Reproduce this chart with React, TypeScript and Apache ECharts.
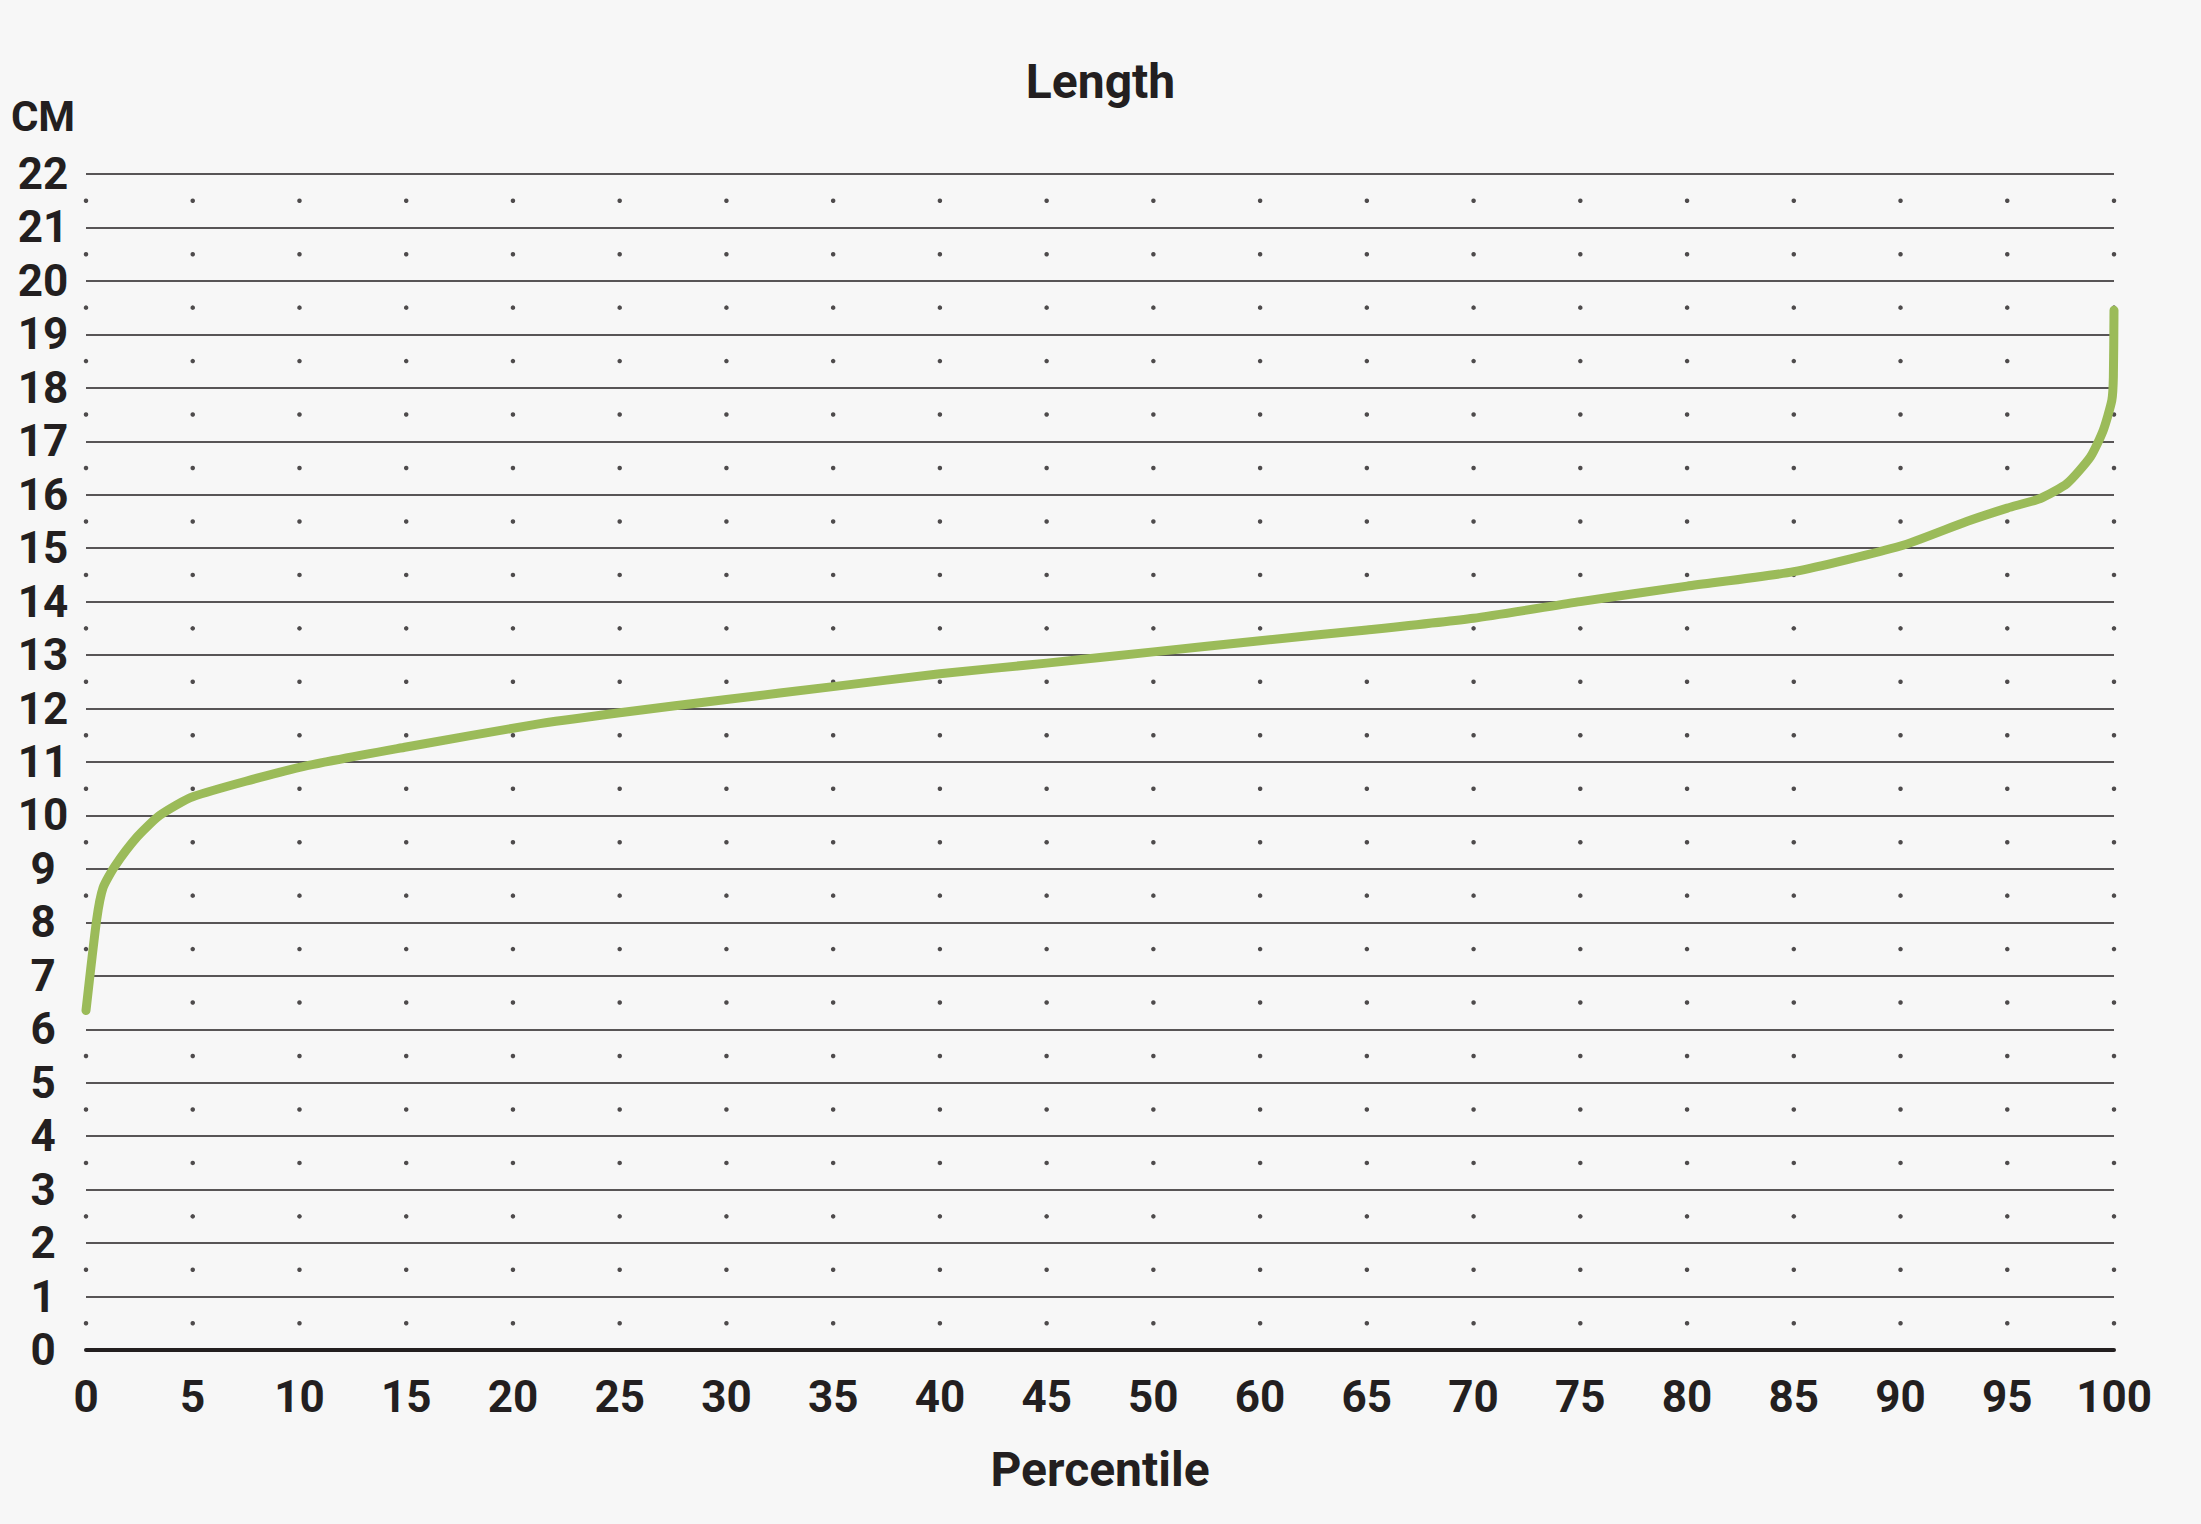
import { useEffect, useRef } from "react";
import * as echarts from "echarts";

// x axis tick labels as printed (note: the source skips 55)
const xTicks = ["0", "5", "10", "15", "20", "25", "30", "35", "40", "45", "50", "60", "65", "70", "75", "80", "85", "90", "95", "100"];
const yMax = 22;

// curve
const percentiles = [0, 0.5, 0.8, 1.35, 2.4, 3.45, 5, 10, 15, 21, 25, 30, 35, 40, 45, 50, 60, 65, 70, 75, 80, 85, 90, 93.1, 95, 96.55, 97.8, 98.9, 99.5, 99.9, 99.97, 100];
const lengthCm = [6.35, 8.05, 8.65, 9.05, 9.6, 10.0, 10.35, 10.9, 11.28, 11.7, 11.92, 12.17, 12.41, 12.65, 12.85, 13.06, 13.27, 13.47, 13.69, 14.0, 14.29, 14.56, 15.04, 15.5, 15.75, 15.93, 16.21, 16.71, 17.21, 17.77, 18.2, 19.45];

const INK = "#231f20";
const FONT = "Roboto";

// the axis is spaced by tick, not by value, so place percentiles between ticks
const tickVals = xTicks.map(Number);
function toPos(p: number) {
    for (let k = 0; k < tickVals.length - 1; k++) {
        if (p <= tickVals[k + 1]) {
            return k + (p - tickVals[k]) / (tickVals[k + 1] - tickVals[k]);
        }
    }
    return tickVals.length - 1;
}

function App() {
    const ref = useRef<HTMLDivElement>(null);

    useEffect(() => {
        if (!ref.current) return;
        const chart = echarts.init(ref.current, null, { renderer: "svg" });

        const dots: number[][] = [];
        for (let i = 0; i < xTicks.length; i++) {
            for (let v = 0; v < yMax; v++) dots.push([i, v + 0.5]);
        }

        chart.setOption({
            animation: false,
            backgroundColor: "#f7f7f7",
            title: {
                text: "Length",
                left: "center",
                top: 52,
                textStyle: { fontFamily: FONT, fontWeight: "bold", fontSize: 48, color: INK },
            },
            graphic: [
                {
                    type: "text",
                    x: 43,
                    y: 116,
                    style: {
                        text: "CM",
                        textAlign: "center",
                        textVerticalAlign: "middle",
                        fontFamily: FONT,
                        fontWeight: "bold",
                        fontSize: 42,
                        fill: INK,
                    },
                },
            ],
            grid: { left: 86, right: 87, top: 174, bottom: 174 },
            xAxis: {
                type: "value",
                min: 0,
                max: xTicks.length - 1,
                interval: 1,
                name: "Percentile",
                nameLocation: "middle",
                nameGap: 95,
                nameTextStyle: { fontFamily: FONT, fontWeight: "bold", fontSize: 48, color: INK },
                axisLine: { show: true, lineStyle: { color: INK, width: 4 } },
                axisTick: { show: false },
                splitLine: { show: false },
                axisLabel: {
                    margin: 25,
                    fontFamily: FONT,
                    fontWeight: "bold",
                    fontSize: 44,
                    color: INK,
                    formatter: (v: number) => xTicks[Math.round(v)] ?? "",
                },
            },
            yAxis: {
                type: "value",
                min: 0,
                max: yMax,
                interval: 1,
                axisLine: { show: false },
                axisTick: { show: false },
                splitLine: { lineStyle: { color: INK, width: 1.6 } },
                axisLabel: {
                    align: "center",
                    margin: 43,
                    fontFamily: FONT,
                    fontWeight: "bold",
                    fontSize: 44,
                    color: INK,
                },
            },
            series: [
                {
                    type: "scatter",
                    data: dots,
                    symbol: "circle",
                    symbolSize: 4.5,
                    itemStyle: { color: INK },
                    silent: true,
                    z: 1,
                },
                {
                    type: "line",
                    data: percentiles.map((p, i) => [toPos(p), lengthCm[i]]),
                    showSymbol: false,
                    symbol: "none",
                    smooth: 0.2,
                    lineStyle: { color: "#9bbb59", width: 9, cap: "round", join: "round" },
                    z: 3,
                },
            ],
        });

        return () => {
            chart.dispose();
        };
    }, []);

    return (
        <div
            ref={ref}
            style={{ position: "fixed", left: 0, top: 0, width: "2201px", height: "1524px" }}
        />
    );
}

export default App;
